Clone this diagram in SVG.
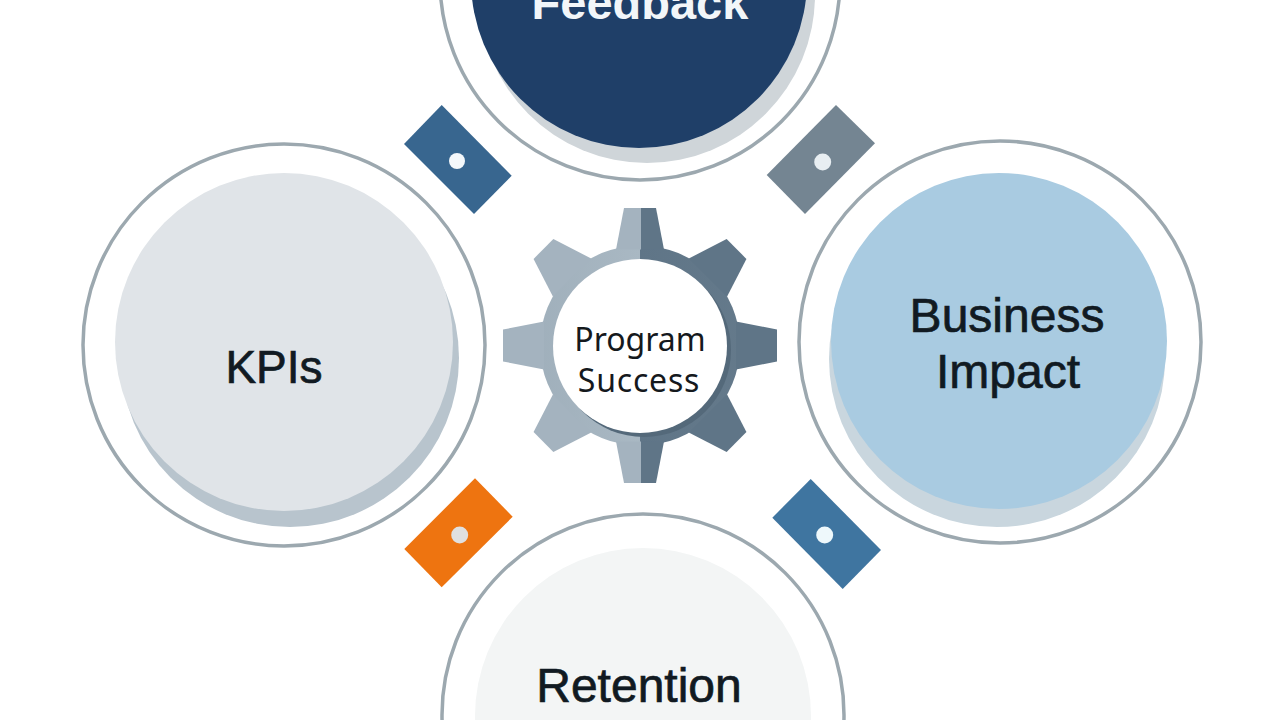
<svg xmlns="http://www.w3.org/2000/svg" width="1280" height="720" viewBox="0 0 1280 720">
<style>
.ring{fill:#fff;stroke:#9ca8af;stroke-width:3.500}
.lbl{font-family:"Liberation Sans",Arial,sans-serif;text-anchor:middle;fill:#111a22;stroke:#111a22;stroke-width:.7}
.hub{font-family:"Noto Sans","Open Sans",sans-serif;font-size:32px;text-anchor:middle;fill:#15191d}
.dot{stroke:none}
</style>
<defs>
<linearGradient id="gearFill" gradientUnits="userSpaceOnUse" x1="503" y1="0" x2="777" y2="0">
<stop offset="0" stop-color="#9dadb9"/><stop offset=".5" stop-color="#a9b8c3"/><stop offset=".5" stop-color="#5f7587"/><stop offset="1" stop-color="#667b8c"/>
</linearGradient>
<path id="tooth" d="M-24-96L-16-137H16L24-96Z"/>
<path id="toothDiag" d="M-27-96L-14-136.500H14L27-96Z"/>
</defs>
<rect width="1280" height="720" fill="#fff"/>
<g id="connectors">
<g id="link-top-left"><polygon points="441.700,105 404,144 474,214 511.700,175.700" fill="#38668f"/><circle class="dot" cx="457" cy="161" r="8" fill="#f4f8fb"/></g>
<g id="link-top-right"><polygon points="836,105 875,143.300 805,214 766.700,175" fill="#748592"/><circle class="dot" cx="822.700" cy="162" r="8.500" fill="#e8eef2"/></g>
<g id="link-bottom-left"><polygon points="475,478.300 512.700,516.700 441.700,587.300 404.300,549" fill="#ee7410"/><circle class="dot" cx="459.700" cy="535" r="8.500" fill="#e0e0e0"/></g>
<g id="link-bottom-right"><polygon points="810.700,479 881,550 842.700,589 772.300,517.700" fill="#3f75a0"/><circle class="dot" cx="824.700" cy="535" r="8.500" fill="#eef8fb"/></g>
</g>
<g id="node-feedback">
<circle class="ring" cx="640" cy="-20" r="200"/>
<circle cx="647" cy="-5" r="168" fill="#cfd5d9"/>
<circle cx="639" cy="-20" r="168" fill="#1f3f68"/>
<text x="640" y="19" font-family="'Liberation Sans',Arial,sans-serif" font-size="47" font-weight="700" text-anchor="middle" fill="#f2f6f9">Feedback</text>
</g>
<g id="node-kpis">
<circle class="ring" cx="284" cy="345" r="201"/>
<circle cx="290" cy="358" r="169" fill="#b8c4cd"/>
<circle cx="284" cy="342" r="169" fill="#e0e4e8"/>
<text class="lbl" x="274" y="383" font-size="46">KPIs</text>
</g>
<g id="node-business-impact">
<circle class="ring" cx="1000" cy="342" r="201"/>
<circle cx="997" cy="359" r="168" fill="#c9d6de"/>
<circle cx="999" cy="341" r="168" fill="#a9cbe1"/>
<text class="lbl" x="1007" y="332" font-size="48">Business</text>
<text class="lbl" x="1008" y="388" font-size="48">Impact</text>
</g>
<g id="node-retention">
<circle class="ring" cx="643" cy="715" r="201"/>
<circle cx="643" cy="716" r="168" fill="#f3f5f5"/>
<text class="lbl" x="639" y="702" font-size="48">Retention</text>
</g>
<g id="node-program-success">
<circle cx="640" cy="345.500" r="100" fill="url(#gearFill)"/>
<g fill="#a4b3bf">
<use href="#tooth" transform="translate(640 345.500) rotate(-90)"/>
<use href="#toothDiag" transform="translate(640 345.500) rotate(-45)"/>
<use href="#toothDiag" transform="translate(640 345.500) rotate(-135)"/>
</g>
<g fill="#5f7587">
<use href="#tooth" transform="translate(640 345.500) rotate(90)"/>
<use href="#toothDiag" transform="translate(640 345.500) rotate(45)"/>
<use href="#toothDiag" transform="translate(640 345.500) rotate(135)"/>
</g>
<path d="M616 249.500L624 208H641V249.500Z" fill="#a4b3bf"/>
<path d="M641 249.500V208H656L664 249.500Z" fill="#5f7587"/>
<path d="M616 441.500L624 483H641V441.500Z" fill="#a4b3bf"/>
<path d="M641 441.500V483H656L664 441.500Z" fill="#5f7587"/>
<circle cx="644" cy="350" r="87" fill="#54697a"/>
<circle cx="640" cy="346" r="87" fill="#fff"/>
<text class="hub" x="640" y="351">Program</text>
<text class="hub" x="639" y="392" letter-spacing=".8">Success</text>
</g>
</svg>
